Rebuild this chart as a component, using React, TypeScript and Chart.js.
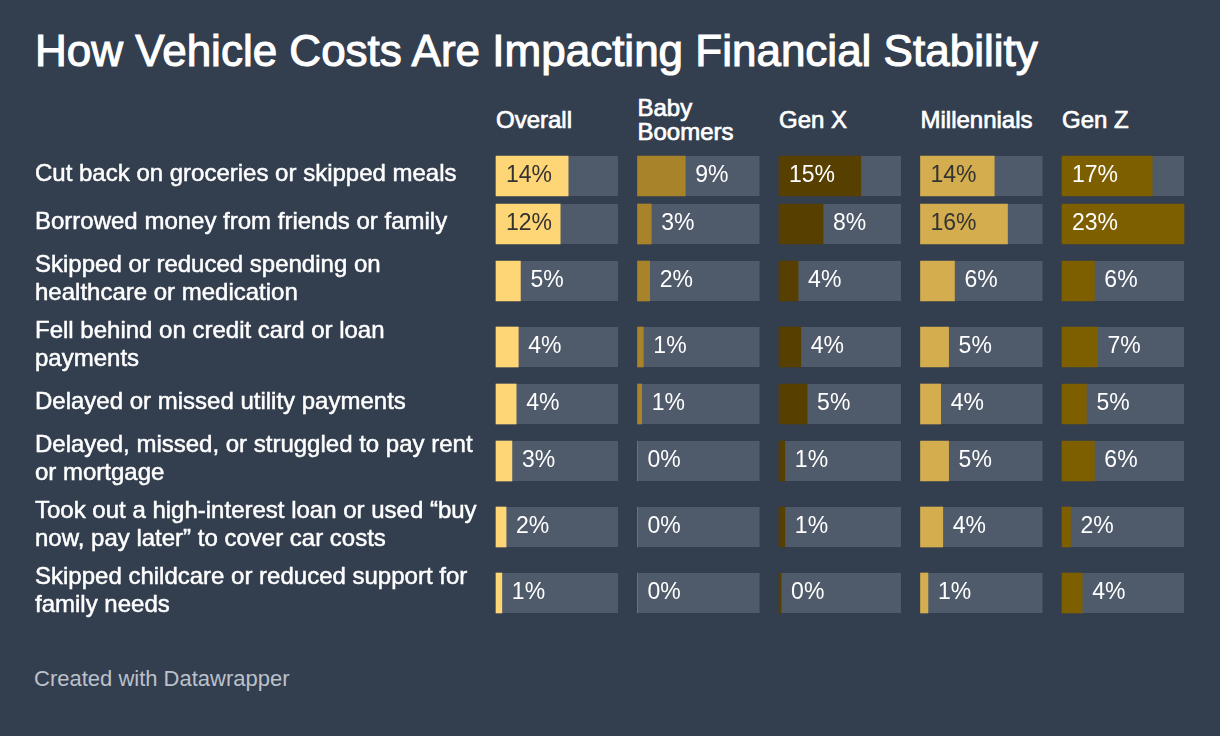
import React, { useEffect, useRef } from "react";
import { Chart, registerables } from "chart.js";

Chart.register(...registerables);

const FONT = '"Liberation Sans", Arimo, Arial, Helvetica, sans-serif';

const TITLE = "How Vehicle Costs Are Impacting Financial Stability";
const FOOTER = "Created with Datawrapper";

const groupNames = ["Overall", "Baby Boomers", "Gen X", "Millennials", "Gen Z"];
const headerLines = [["Overall"], ["Baby", "Boomers"], ["Gen X"], ["Millennials"], ["Gen Z"]];

const rowLabels: string[][] = [
  ["Cut back on groceries or skipped meals"],
  ["Borrowed money from friends or family"],
  ["Skipped or reduced spending on", "healthcare or medication"],
  ["Fell behind on credit card or loan", "payments"],
  ["Delayed or missed utility payments"],
  ["Delayed, missed, or struggled to pay rent", "or mortgage"],
  ["Took out a high-interest loan or used \u201cbuy", "now, pay later\u201d to cover car costs"],
  ["Skipped childcare or reduced support for", "family needs"],
];

// percent of respondents (labels show rounded values)
const overall = [13.6, 12.1, 4.6, 4.2, 3.8, 3.0, 1.9, 1.1];
const babyBoomers = [9.0, 2.6, 2.3, 1.1, 0.8, 0.0, 0.0, 0.0];
const genX = [15.4, 8.3, 3.6, 4.1, 5.3, 1.1, 1.1, 0.4];
const millennials = [13.9, 16.4, 6.4, 5.3, 3.8, 5.3, 4.2, 1.4];
const genZ = [17.0, 23.0, 6.1, 6.7, 4.6, 6.1, 1.6, 3.8];

const seriesValues = [overall, babyBoomers, genX, millennials, genZ];
const seriesColors = ["#ffd676", "#a9832a", "#573f00", "#d4ad4e", "#7e5f00"];

const BG = "#333e4f";
const TRACK = "#4f5a6a";
const SCALE_MAX = 23;
const BAR_W = 122;
const COL_W = 141.5;

function isLight(hex: string) {
  const n = parseInt(hex.slice(1), 16);
  const r = (n >> 16) & 255, g = (n >> 8) & 255, b = n & 255;
  return (0.299 * r + 0.587 * g + 0.114 * b) / 255 > 0.55;
}

const trackPlugin = {
  id: "track",
  beforeDatasetsDraw(chart: any) {
    const ctx = chart.ctx;
    ctx.save();
    ctx.fillStyle = TRACK;
    chart.data.datasets.forEach((ds: any, c: number) => {
      const bar: any = chart.getDatasetMeta(c).data[0];
      const s = chart.scales[ds.xAxisID];
      const x0 = s.getPixelForValue(0);
      const x1 = s.getPixelForValue(SCALE_MAX);
      ctx.fillRect(x0, bar.y - bar.height / 2, x1 - x0, bar.height);
    });
    ctx.restore();
  },
};

const valueLabelPlugin = {
  id: "valueLabels",
  afterDatasetsDraw(chart: any) {
    const ctx = chart.ctx;
    ctx.save();
    ctx.font = `23px ${FONT}`;
    ctx.textAlign = "left";
    ctx.textBaseline = "alphabetic";
    chart.data.datasets.forEach((ds: any, c: number) => {
      const bar: any = chart.getDatasetMeta(c).data[0];
      const v = ds.data[0] as number;
      const text = Math.round(v) + "%";
      const w = ctx.measureText(text).width;
      const barW = bar.x - bar.base;
      const inside = barW >= w + 16;
      const x = inside ? bar.base + 10 : bar.x + 10;
      ctx.fillStyle = inside && isLight(ds.backgroundColor) ? "#333333" : "#ffffff";
      ctx.fillText(text, x, bar.y + 6);
    });
    ctx.restore();
  },
};

function RowChart({ index }: { index: number }) {
  const ref = useRef<HTMLCanvasElement>(null);
  const lines = rowLabels[index];
  const height = lines.length > 1 ? 66 : 48;
  useEffect(() => {
    const canvas = ref.current!;
    const scales: any = {
      y: {
        type: "category",
        position: "left",
        grid: { display: false, drawTicks: false },
        border: { display: false },
        ticks: {
          crossAlign: "far",
          padding: 0,
          labelOffset: -2,
          color: "#ffffff",
          textStrokeColor: "#ffffff",
          textStrokeWidth: 0.5,
          font: { family: FONT, size: 24, lineHeight: 28 / 24 },
        },
        afterFit: (s: any) => {
          s.width = 461;
        },
      },
    };
    seriesValues.forEach((_, c) => {
      scales["x" + c] = {
        type: "linear",
        position: "bottom",
        stack: "columns",
        stackWeight: 1,
        min: 0,
        max: (SCALE_MAX * COL_W) / BAR_W,
        display: false,
      };
    });
    const datasets = seriesValues.map((vals, c) => ({
      label: groupNames[c],
      data: [vals[index]],
      xAxisID: "x" + c,
      yAxisID: "y",
      backgroundColor: seriesColors[c],
      borderWidth: 0,
      grouped: false,
      barThickness: 40,
      clip: false,
    }));
    const chart = new Chart(canvas, {
      type: "bar",
      data: { labels: [lines], datasets },
      options: {
        indexAxis: "y",
        responsive: false,
        maintainAspectRatio: false,
        animation: false,
        events: [],
        layout: { padding: { left: 35, right: 1220 - 496 - COL_W * 5, top: 0, bottom: 0 } },
        plugins: { legend: { display: false }, tooltip: { enabled: false } },
        scales,
      },
      plugins: [trackPlugin, valueLabelPlugin],
    } as any);
    return () => chart.destroy();
  }, [index]);
  return (
    <canvas
      ref={ref}
      width={1220}
      height={height}
      style={{ display: "block", width: 1220, height }}
    />
  );
}

export default function App() {
  return (
    <div
      style={{
        position: "fixed",
        left: 0,
        top: 0,
        width: 1220,
        height: 736,
        background: BG,
        fontFamily: FONT,
        color: "#ffffff",
        overflow: "hidden",
      }}
    >
      <div
        style={{
          position: "absolute",
          left: 35,
          top: 26,
          fontSize: 44,
          lineHeight: "50px",
          whiteSpace: "nowrap",
          WebkitTextStroke: "1.1px #ffffff",
        }}
      >
        {TITLE}
      </div>
      {headerLines.map((lines, i) => (
        <div
          key={i}
          style={{
            position: "absolute",
            left: 496 + i * COL_W,
            top: 96,
            height: 47,
            display: "flex",
            alignItems: "center",
            fontSize: 24,
            lineHeight: "23.5px",
            whiteSpace: "nowrap",
            WebkitTextStroke: "0.7px #ffffff",
          }}
        >
          <div>
            {lines.map((l, j) => (
              <div key={j}>{l}</div>
            ))}
          </div>
        </div>
      ))}
      <div style={{ position: "absolute", left: 0, top: 152 }}>
        {rowLabels.map((_, r) => (
          <RowChart key={r} index={r} />
        ))}
      </div>
      <div
        style={{
          position: "absolute",
          left: 34,
          top: 666,
          fontSize: 22,
          lineHeight: "26px",
          color: "#bcc1ca",
          whiteSpace: "nowrap",
        }}
      >
        {FOOTER}
      </div>
    </div>
  );
}
